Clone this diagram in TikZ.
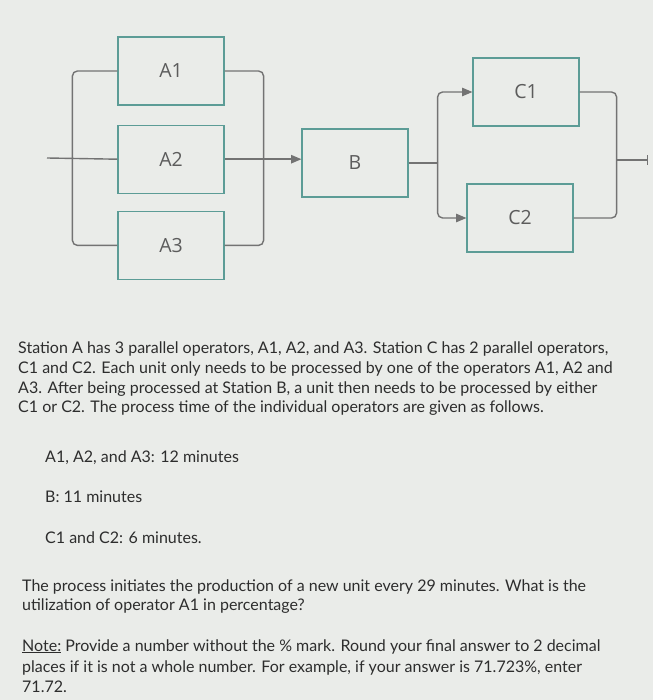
\documentclass[tikz,border=0pt]{standalone}
\usepackage{fontspec}
\setmainfont{Lato}
\newfontfamily\boxfont{Open Sans}
\usetikzlibrary{arrows,positioning}
\definecolor{screen}{RGB}{234,236,233}
\definecolor{boxline}{RGB}{92,156,150}
\definecolor{wirecol}{RGB}{115,115,115}
\definecolor{ink}{RGB}{45,45,45}

\begin{document}
\begin{tikzpicture}[x=1pt, y=-1pt,
  station/.style={draw=boxline, line width=1.2pt, minimum width=106pt, minimum height=68pt,
    inner sep=0pt, text=wirecol!80!black, font=\boxfont\fontsize{19.5}{20}\selectfont},
  wire/.style={draw=wirecol, line width=1.4pt, rounded corners=5pt},
  feed/.style={wire, -triangle 45},
  qline/.style={anchor=west, inner sep=0pt, text=ink, text height=11pt, text depth=3pt,
    font=\fontsize{16}{18}\selectfont}]

  \fill[screen] (0,0) rectangle (653,700);
  \useasboundingbox (0,0) rectangle (653,700);

  % station A
  \node[station] (A1) at (171,71) {A1};
  \node[station, below=19pt of A1] (A2) {A2};
  \node[station, below=17pt of A2] (A3) {A3};
  % station B and C
  \node[station] (B) at (355,163) {B};
  \node[station] (C1) at (526,92) {C1};
  \node[station] (C2) at (520,218) {C2};

  \coordinate (src) at (47,158);
  \coordinate (sink) at (648,160);

  \draw[wire] (src) -- (A2.west);
  \draw[wire] (A1.west) -- ++(-45,0) |- (A3.west);
  \draw[wire] (A1.east) -- ++(39,0) |- (A3.east);
  \draw[feed] (A2.east) -- (A2.east -| B.west);

  \draw[wire] (B.east) -- ++(29,0) coordinate (Bsplit);
  \draw[feed] (Bsplit) |- (C1.west);
  \draw[feed] (Bsplit) |- (C2.west);

  \draw[wire] (C1.east) -- ++(37,0) coordinate (Cbus) |- (C2.east);
  \draw[wire, -|] (Cbus |- sink) -- (sink);

  % question text
  \node[qline] (t1) at (18,349) {Station A has 3 parallel operators, A1, A2, and A3. Station C has 2 parallel operators,};
  \node[qline] (t2) at (18,369) {C1 and C2. Each unit only needs to be processed by one of the operators A1, A2 and};
  \node[qline] (t3) at (18,389) {A3. After being processed at Station B, a unit then needs to be processed by either};
  \node[qline] (t4) at (18,408) {C1 or C2. The process time of the individual operators are given as follows.};
  \node[qline] (t5) at (45,458) {A1, A2, and A3: 12 minutes};
  \node[qline] (t6) at (45,498) {B: 11 minutes};
  \node[qline] (t7) at (45,539) {C1 and C2: 6 minutes.};
  \node[qline] (t8) at (22,587) {The process initiates the production of a new unit every 29 minutes. What is the};
  \node[qline] (t9) at (22,606) {utilization of operator A1 in percentage?};
  \node[qline] (t10) at (22,647) {\underline{Note:} Provide a number without the \% mark. Round your final answer to 2 decimal};
  \node[qline] (t11) at (22,668) {places if it is not a whole number. For example, if your answer is 71.723\%, enter};
  \node[qline] (t12) at (22,688) {71.72.};
\end{tikzpicture}
\end{document}
